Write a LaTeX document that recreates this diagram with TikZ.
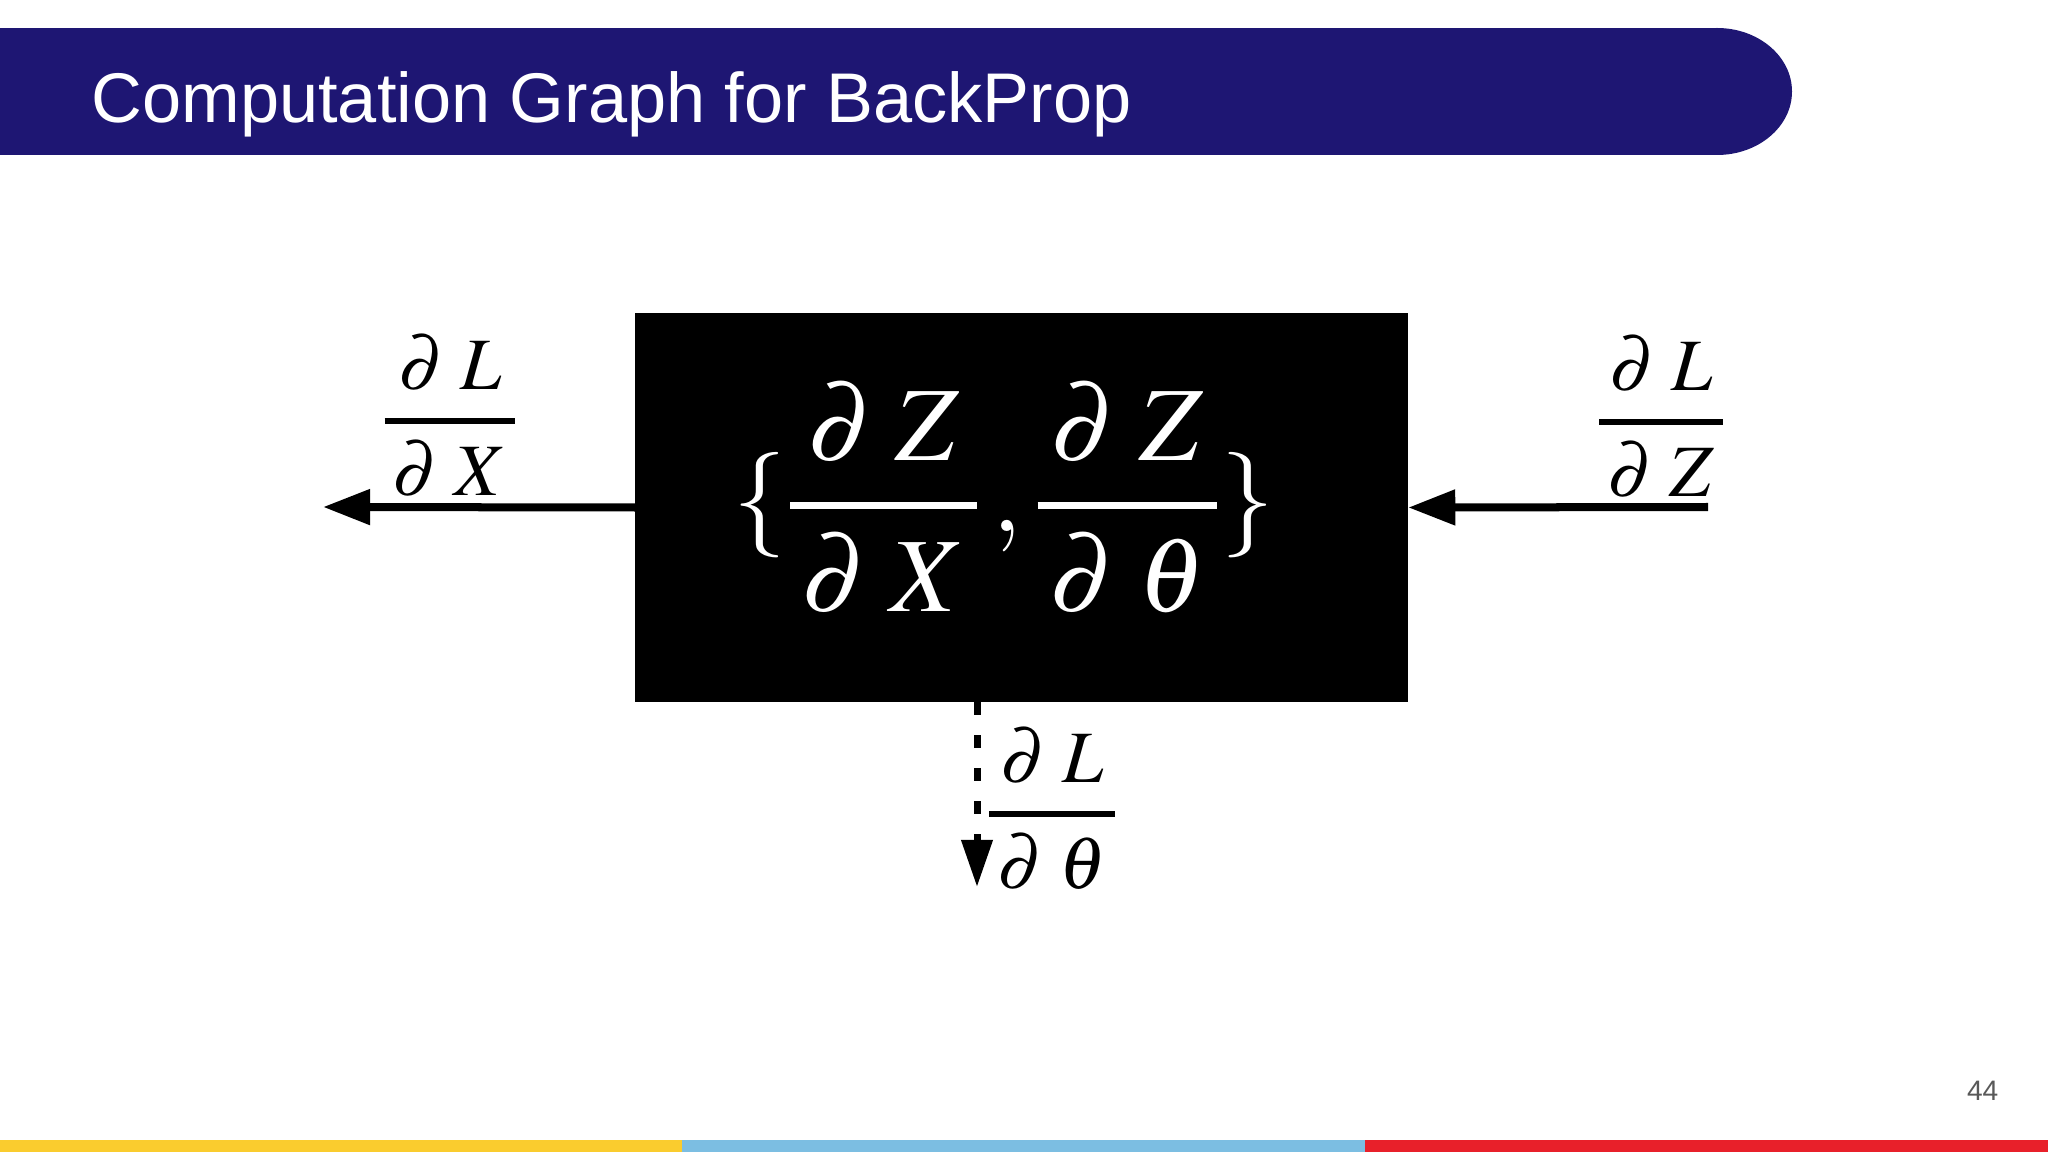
\documentclass[tikz,border=0pt]{standalone}
\usepackage{amsmath}
\usepackage{mathptmx}
\usepackage[no-math]{fontspec}
\newfontfamily\slidefont{Liberation Sans}
\usepackage{tikz}
\usetikzlibrary{arrows.meta,positioning}
\definecolor{barnavy}{RGB}{30,22,115}
\definecolor{stripyellow}{RGB}{250,204,46}
\definecolor{stripblue}{RGB}{124,190,226}
\definecolor{stripred}{RGB}{232,32,42}
\definecolor{pagegray}{RGB}{89,89,89}
\newcommand{\gradfrac}[3]{
  \genfrac{}{}{#3}{0}{\,\partial\;#1\,}{\,\partial\;#2\,}
}

\begin{document}
\begin{tikzpicture}[x=0.01cm, y=-0.01cm,
    block/.style={fill=black, inner sep=0pt, outer sep=0pt,
      minimum width=7.73cm, minimum height=3.89cm},
    grad/.style={inner sep=0pt, font=\fontsize{21}{25}\selectfont},
    flow/.style={line width=0.08cm, -{Triangle[length=0.47cm,width=0.34cm]}}
  ]
  % Page and its bounding box, in pixels of the slide
  \useasboundingbox (0,0) rectangle (2048,1152);
  \fill[white] (0,0) rectangle (2048,1152);

  % Title bar with its rounded end
  \fill[barnavy] (0,28) rectangle (1717,155);
  \fill[barnavy] (1717,91.5) ellipse [x radius=75, y radius=63.5];
  \node[anchor=base west, inner sep=0pt, text=white,
    font=\slidefont\fontsize{20}{24}\selectfont] (title) at (91,123)
    {Computation Graph for BackProp};

  % The unit and the local gradients it holds
  \node[block] (unit) at (1021.5,507.5) {};
  \node[inner sep=0pt, text=white, font=\fontsize{30}{36}\selectfont]
    (local) at ([xshift=-0.18cm, yshift=0.1cm]unit.center)
    {$\displaystyle \{\gradfrac{Z}{X}{2.2pt}\,,\gradfrac{Z}{\theta}{2.2pt}\}$};

  % Free ends of the connectors
  \coordinate (xout) at (323,507);
  \coordinate (zin) at (1708,507);
  \coordinate (thetaout) at (977,887);

  % Gradient flowing in and out of the unit
  \draw[flow] (zin) -- (unit.east);
  \draw[flow] (unit.west) -- (xout);
  \draw[flow, line width=0.07cm, dash pattern=on 0.13cm off 0.2cm,
    -{Triangle[length=0.47cm,width=0.30cm]}] (unit.south -| thetaout) -- (thetaout);

  % Labels of the gradients
  \node[grad] (dldx) at (450,416) {$\displaystyle\gradfrac{L}{X}{1.6pt}$};
  \node[grad] (dldz) at (1661,417) {$\displaystyle\gradfrac{L}{Z}{1.6pt}$};
  \node[grad] (dldtheta) at (1052,809) {$\displaystyle\gradfrac{L}{\theta}{1.6pt}$};

  % Page number and the coloured strips at the foot
  \node[anchor=base east, inner sep=0pt, text=pagegray,
    font=\slidefont\fontsize{8}{10}\selectfont] (pagenum) at (1999,1100) {44};
  \fill[stripyellow] (0,1140) rectangle (682,1152);
  \fill[stripblue] (682,1140) rectangle (1365,1152);
  \fill[stripred] (1365,1140) rectangle (2048,1152);
\end{tikzpicture}
\end{document}
